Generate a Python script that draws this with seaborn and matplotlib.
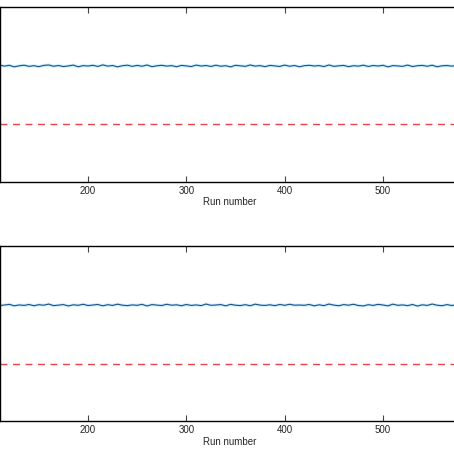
import numpy as np
import pandas as pd
import matplotlib
matplotlib.use("Agg")
import matplotlib.pyplot as plt
import seaborn as sns

sns.set_style("white")
plt.rcParams['font.family'] = ['Liberation Sans', 'DejaVu Sans']

runs = list(range(100, 605, 5))
dev_top = [0.3,-0.5,0.8,-0.2,0.6,-0.9,0.1,0.7,-0.4,0.2,-0.7,0.5,0.9,-0.3,0.4,-0.6,0.0,0.8,-0.8,0.3,
           -0.1,0.6,-0.5,1.0,-0.2,0.4,-0.9,0.2,0.7,-0.4,0.5,-0.3,0.9,-0.7,0.1,0.6,-0.2,0.3,-0.8,0.5,
           0.0,-0.6,0.8,-0.1,0.4,-0.5,0.7,-0.3,0.2,-0.9,0.6,0.1,-0.4,0.9,-0.2,0.3,-0.7,0.5,0.0,-0.5,
           0.8,-0.3,0.4,-0.8,0.2,0.6,-0.1,0.3,-0.6,0.9,-0.4,0.1,0.5,-0.7,0.2,-0.2,0.7,-0.5,0.4,-0.1,
           0.6,-0.9,0.3,0.0,-0.4,0.8,-0.6,0.2,0.5,-0.3,0.7,-0.8,0.1,0.4,-0.2,0.6,-0.5,0.3,-0.7,0.2,0.0]
dev_bot = dev_top[37:] + dev_top[:37]
dev_bot = [-d for d in dev_bot]
level_top = 0.662
level_bot = 0.665
threshold = 0.33
noise_scale = 0.006

fig, axes = plt.subplots(2, 1, figsize=(4.54, 4.54), dpi=100)
fig.subplots_adjust(left=0.0, right=1.01, top=0.985, bottom=0.072, hspace=0.37)
for ax, dev, lvl in zip(axes, [dev_top, dev_bot], [level_top, level_bot]):
    df = pd.DataFrame({"run": runs, "val": [lvl + noise_scale * d for d in dev]})
    sns.lineplot(data=df, x="run", y="val", ax=ax, color="#c8f0ff", linewidth=2.2)
    sns.lineplot(data=df, x="run", y="val", ax=ax, color="#1d4f8c", linewidth=0.8)
    ax.axhline(threshold, color="#e8434b", linestyle=(0, (5, 4)), linewidth=1.0)
    ax.set_xlim(110.5, 576.8)
    ax.set_ylim(0, 1)
    ax.set_xticks([200, 300, 400, 500])
    ax.set_yticks([])
    ax.set_xlabel("Run number", fontsize=7, labelpad=1)
    ax.set_ylabel("")
    ax.tick_params(axis="x", direction="in", top=True, bottom=True, length=4, labelsize=7, pad=3, color="#444444")
    for s in ax.spines.values():
        s.set_color("black"); s.set_linewidth(1.0)
fig.savefig("out.png", dpi=100)
